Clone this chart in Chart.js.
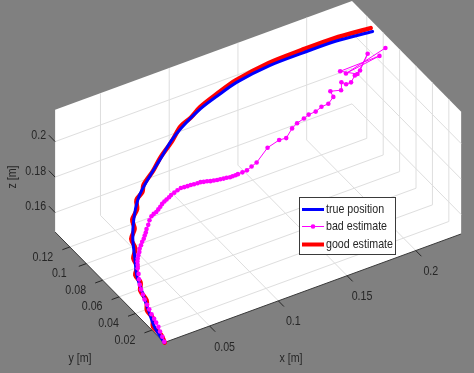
<!DOCTYPE html>
<html>
<head>
<meta charset="utf-8">
<script src="https://cdn.jsdelivr.net/npm/chart.js@4/dist/chart.umd.min.js"></script>
<style>
html,body{margin:0;padding:0;background:#808080;overflow:hidden;}
#wrap{width:474px;height:373px;position:relative;}
</style>
</head>
<body>
<div id="wrap"><canvas id="c" width="474" height="373"></canvas></div>
<script>
// ---- axis limits and ticks (metres) ----
const xLimits = [0.017, 0.233];
const yLimits = [0.005, 0.138];
const zLimits = [0.149, 0.218];
const xTicks = [0.05, 0.1, 0.15, 0.2];
const yTicks = [0.02, 0.04, 0.06, 0.08, 0.1, 0.12];
const zTicks = [0.16, 0.18, 0.2];
const xTickLabels = ['0.05', '0.1', '0.15', '0.2'];
const yTickLabels = ['0.02', '0.04', '0.06', '0.08', '0.1', '0.12'];
const zTickLabels = ['0.16', '0.18', '0.2'];
const seriesNames = ['true position', 'bad estimate', 'good estimate'];

// ---- true position ----
const trueX = [0.0170,0.0181,0.0211,0.0246,0.0276,0.0315,0.0362,0.0425,0.0505,0.0580,0.0755,0.0864,0.0952,0.1114,0.1238,0.1384,0.1613,0.1833,0.2049,0.2280];
const trueY = [0.0050,0.0188,0.0311,0.0452,0.0563,0.0651,0.0755,0.0849,0.0933,0.0976,0.1068,0.1128,0.1155,0.1188,0.1193,0.1197,0.1184,0.1145,0.1111,0.1045];
const trueZ = [0.1490,0.1511,0.1538,0.1573,0.1600,0.1642,0.1690,0.1738,0.1787,0.1828,0.1890,0.1925,0.1959,0.2008,0.2042,0.2077,0.2111,0.2139,0.2159,0.2180];

// ---- good estimate ----
const goodX = [0.0172,0.0185,0.0172,0.0205,0.0202,0.0237,0.0237,0.0270,0.0267,0.0305,0.0306,0.0347,0.0353,0.0402,0.0416,0.0474,0.0497,0.0550,0.0573,0.0670,0.0752,0.0855,0.0950,0.1035,0.1112,0.1240,0.1380,0.1608,0.1828,0.2043,0.2272];
const goodY = [0.0048,0.0113,0.0191,0.0247,0.0314,0.0377,0.0455,0.0506,0.0566,0.0605,0.0655,0.0699,0.0759,0.0800,0.0852,0.0890,0.0936,0.0953,0.0978,0.1024,0.1071,0.1110,0.1158,0.1171,0.1192,0.1200,0.1202,0.1192,0.1155,0.1120,0.1055];
const goodZ = [0.1490,0.1500,0.1512,0.1525,0.1538,0.1556,0.1574,0.1587,0.1601,0.1621,0.1643,0.1666,0.1690,0.1714,0.1738,0.1763,0.1787,0.1808,0.1829,0.1860,0.1891,0.1930,0.1968,0.1990,0.2015,0.2050,0.2086,0.2122,0.2151,0.2173,0.2196];

// ---- bad estimate ----
const badX = [0.0175,0.0184,0.0193,0.0202,0.0206,0.0210,0.0213,0.0220,0.0227,0.0234,0.0245,0.0255,0.0266,0.0285,0.0304,0.0323,0.0334,0.0345,0.0356,0.0370,0.0385,0.0399,0.0417,0.0435,0.0453,0.0469,0.0484,0.0500,0.0525,0.0549,0.0574,0.0594,0.0614,0.0634,0.0654,0.0675,0.0695,0.0714,0.0734,0.0753,0.0778,0.0804,0.0829,0.0850,0.0870,0.0891,0.0911,0.0932,0.0952,0.0969,0.0987,0.1004,0.1023,0.1041,0.1060,0.1079,0.1097,0.1116,0.1133,0.1151,0.1168,0.1196,0.1224,0.1256,0.1291,0.1395,0.1479,0.1520,0.1583,0.1624,0.1673,0.1706,0.1753,0.1796,0.1842,0.1892,0.1887,0.1950,0.1974,0.1995,0.2025,0.2062,0.2103,0.2187,0.2077,0.1999,0.2252,0.2012,0.2306];
const badY = [0.0058,0.0097,0.0140,0.0175,0.0209,0.0240,0.0277,0.0317,0.0354,0.0397,0.0435,0.0476,0.0510,0.0550,0.0588,0.0631,0.0649,0.0670,0.0685,0.0701,0.0714,0.0733,0.0747,0.0763,0.0774,0.0789,0.0801,0.0819,0.0840,0.0865,0.0883,0.0889,0.0891,0.0900,0.0909,0.0922,0.0928,0.0933,0.0936,0.0943,0.0946,0.0951,0.0952,0.0946,0.0939,0.0935,0.0929,0.0922,0.0918,0.0907,0.0897,0.0884,0.0875,0.0865,0.0858,0.0850,0.0843,0.0833,0.0830,0.0825,0.0824,0.0816,0.0808,0.0805,0.0802,0.0843,0.0842,0.0825,0.0859,0.0867,0.0866,0.0863,0.0856,0.0858,0.0851,0.0874,0.0902,0.0877,0.0913,0.0891,0.0881,0.0897,0.0902,0.0950,0.0890,0.0970,0.0915,0.0921,0.0933];
const badZ = [0.1490,0.1497,0.1504,0.1511,0.1518,0.1524,0.1531,0.1538,0.1545,0.1552,0.1559,0.1566,0.1573,0.1580,0.1587,0.1594,0.1601,0.1607,0.1614,0.1621,0.1628,0.1635,0.1642,0.1649,0.1656,0.1663,0.1669,0.1676,0.1683,0.1690,0.1697,0.1702,0.1706,0.1711,0.1716,0.1720,0.1725,0.1729,0.1734,0.1738,0.1743,0.1747,0.1752,0.1754,0.1757,0.1759,0.1761,0.1764,0.1766,0.1768,0.1771,0.1773,0.1775,0.1778,0.1780,0.1782,0.1785,0.1787,0.1789,0.1792,0.1794,0.1800,0.1807,0.1821,0.1835,0.1870,0.1890,0.1897,0.1918,0.1932,0.1945,0.1959,0.1966,0.1980,0.1987,0.2001,0.2021,0.2021,0.2042,0.2035,0.2042,0.2063,0.2077,0.2125,0.2070,0.2070,0.2111,0.2077,0.2132];

// ---- view (camera): screen position of (xmin,ymin,zmin) and screen extent of each full axis ----
const VIEW = { origin: [163, 346], ex: [302, -111], ey: [-111, -113], ez: [0, -125] };
function project(x, y, z) {
  const u = (x - xLimits[0]) / (xLimits[1] - xLimits[0]);
  const v = (y - yLimits[0]) / (yLimits[1] - yLimits[0]);
  const w = (z - zLimits[0]) / (zLimits[1] - zLimits[0]);
  return {
    x: VIEW.origin[0] + u * VIEW.ex[0] + v * VIEW.ey[0] + w * VIEW.ez[0],
    y: VIEW.origin[1] + u * VIEW.ex[1] + v * VIEW.ey[1] + w * VIEW.ez[1]
  };
}
const toPoints = (X, Y, Z) => X.map((x, i) => project(x, Y[i], Z[i]));

const FONT = '13px "Liberation Sans", Arial, sans-serif';
const NARROW = 0.82;
const TEXT = '#262626';
const GRID = '#dedede';
const BLUE = '#0000ff', RED = '#ff0000', MAG = '#ff00ff';

function drawText(ctx, s, x, y, align, rot) {
  ctx.save();
  ctx.translate(x, y);
  if (rot) ctx.rotate(rot);
  ctx.scale(NARROW, 1);
  ctx.font = FONT; ctx.fillStyle = TEXT;
  ctx.textAlign = align; ctx.textBaseline = 'middle';
  ctx.fillText(s, 0, 0);
  ctx.restore();
}

const boxPlugin = {
  id: 'box3d',
  beforeDatasetsDraw(chart) {
    const ctx = chart.ctx, sx = chart.scales.x, sy = chart.scales.y;
    const P = (x, y, z) => { const p = project(x, y, z); return [sx.getPixelForValue(p.x), sy.getPixelForValue(p.y)]; };
    const [x0, x1] = xLimits, [y0, y1] = yLimits, [z0, z1] = zLimits;
    ctx.save();
    const outline = [P(x0,y1,z1), P(x1,y1,z1), P(x1,y0,z1), P(x1,y0,z0), P(x0,y0,z0), P(x0,y1,z0)];
    ctx.fillStyle = '#ffffff';
    ctx.beginPath();
    outline.forEach((p, i) => i ? ctx.lineTo(p[0], p[1]) : ctx.moveTo(p[0], p[1]));
    ctx.closePath(); ctx.fill();
    const seg = (a, b, color, w) => {
      ctx.strokeStyle = color; ctx.lineWidth = w || 1;
      ctx.beginPath(); ctx.moveTo(a[0], a[1]); ctx.lineTo(b[0], b[1]); ctx.stroke();
    };
    xTicks.forEach(x => { seg(P(x,y0,z0), P(x,y1,z0), GRID); seg(P(x,y1,z0), P(x,y1,z1), GRID); });
    yTicks.forEach(y => { seg(P(x0,y,z0), P(x1,y,z0), GRID); seg(P(x1,y,z0), P(x1,y,z1), GRID); });
    zTicks.forEach(z => { seg(P(x0,y1,z), P(x1,y1,z), GRID); seg(P(x1,y0,z), P(x1,y1,z), GRID); });
    seg(P(x0,y0,z0), P(x1,y0,z0), '#3a3a3a');
    seg(P(x0,y0,z0), P(x0,y1,z0), '#3a3a3a');
    const nrm = v => { const l = Math.hypot(v[0], v[1]); return [v[0] / l, v[1] / l]; };
    const dY = nrm(VIEW.ey), dX = nrm(VIEW.ex);
    xTicks.forEach((x, i) => {
      const a = P(x, y0, z0), b = [a[0] - dY[0] * 8, a[1] - dY[1] * 8];
      seg(a, b, TEXT);
      drawText(ctx, xTickLabels[i], a[0] + 15, a[1] + 21, 'center');
    });
    yTicks.forEach((y, i) => {
      const a = P(x0, y, z0), b = [a[0] - dX[0] * 8, a[1] - dX[1] * 8];
      seg(a, b, TEXT);
      drawText(ctx, yTickLabels[i], a[0] - 27, a[1] + 10, 'center');
    });
    zTicks.forEach((z, i) => {
      const a = P(x0, y1, z), b = [a[0] + dY[0] * 9, a[1] + dY[1] * 9];
      seg(a, b, TEXT);
      drawText(ctx, zTickLabels[i], a[0] - 9, a[1] - 6, 'right');
    });
    drawText(ctx, 'x [m]', 291, 358, 'center');
    drawText(ctx, 'y [m]', 80, 358, 'center');
    drawText(ctx, 'z [m]', 12, 177, 'center', -Math.PI / 2);
    ctx.restore();
  },
  afterDatasetsDraw(chart) {
    const ctx = chart.ctx;
    ctx.save();
    const bx = 299, by = 197, bw = 96, bh = 57;
    ctx.fillStyle = '#ffffff'; ctx.fillRect(bx, by, bw, bh);
    ctx.strokeStyle = '#3a3a3a'; ctx.lineWidth = 1; ctx.strokeRect(bx + 0.5, by + 0.5, bw, bh);
    const rows = [209.5, 226.5, 244.5];
    const styles = [[BLUE, 3, false], [MAG, 1, true], [RED, 4, false]];
    rows.forEach((ry, i) => {
      const [c, w, dot] = styles[i];
      ctx.strokeStyle = c; ctx.lineWidth = w;
      ctx.beginPath(); ctx.moveTo(302, ry); ctx.lineTo(324, ry); ctx.stroke();
      if (dot) { ctx.fillStyle = c; ctx.beginPath(); ctx.arc(313, ry, 2.3, 0, Math.PI * 2); ctx.fill(); }
      drawText(ctx, seriesNames[i], 326, ry, 'left');
    });
    ctx.restore();
  }
};

new Chart(document.getElementById('c'), {
  type: 'scatter',
  data: {
    datasets: [
      { label: seriesNames[1], data: toPoints(badX, badY, badZ), showLine: true, borderColor: MAG, borderWidth: 1,
        pointRadius: 2.3, pointBackgroundColor: MAG, pointBorderWidth: 0, tension: 0, order: 0 },
      { label: seriesNames[0], data: toPoints(trueX, trueY, trueZ), showLine: true, borderColor: BLUE, borderWidth: 3,
        pointRadius: 0, tension: 0.3, order: 1 },
      { label: seriesNames[2], data: toPoints(goodX, goodY, goodZ), showLine: true, borderColor: RED, borderWidth: 4.5,
        pointRadius: 0, tension: 0.3, order: 2 }
    ]
  },
  options: {
    responsive: false, animation: false, devicePixelRatio: 1,
    layout: { padding: 0 },
    plugins: { legend: { display: false }, tooltip: { enabled: false } },
    scales: {
      x: { type: 'linear', min: 0, max: 474, display: false },
      y: { type: 'linear', min: 0, max: 373, reverse: true, display: false }
    },
    elements: { line: { borderCapStyle: 'round', borderJoinStyle: 'round' } }
  },
  plugins: [boxPlugin]
});
</script>
</body>
</html>
